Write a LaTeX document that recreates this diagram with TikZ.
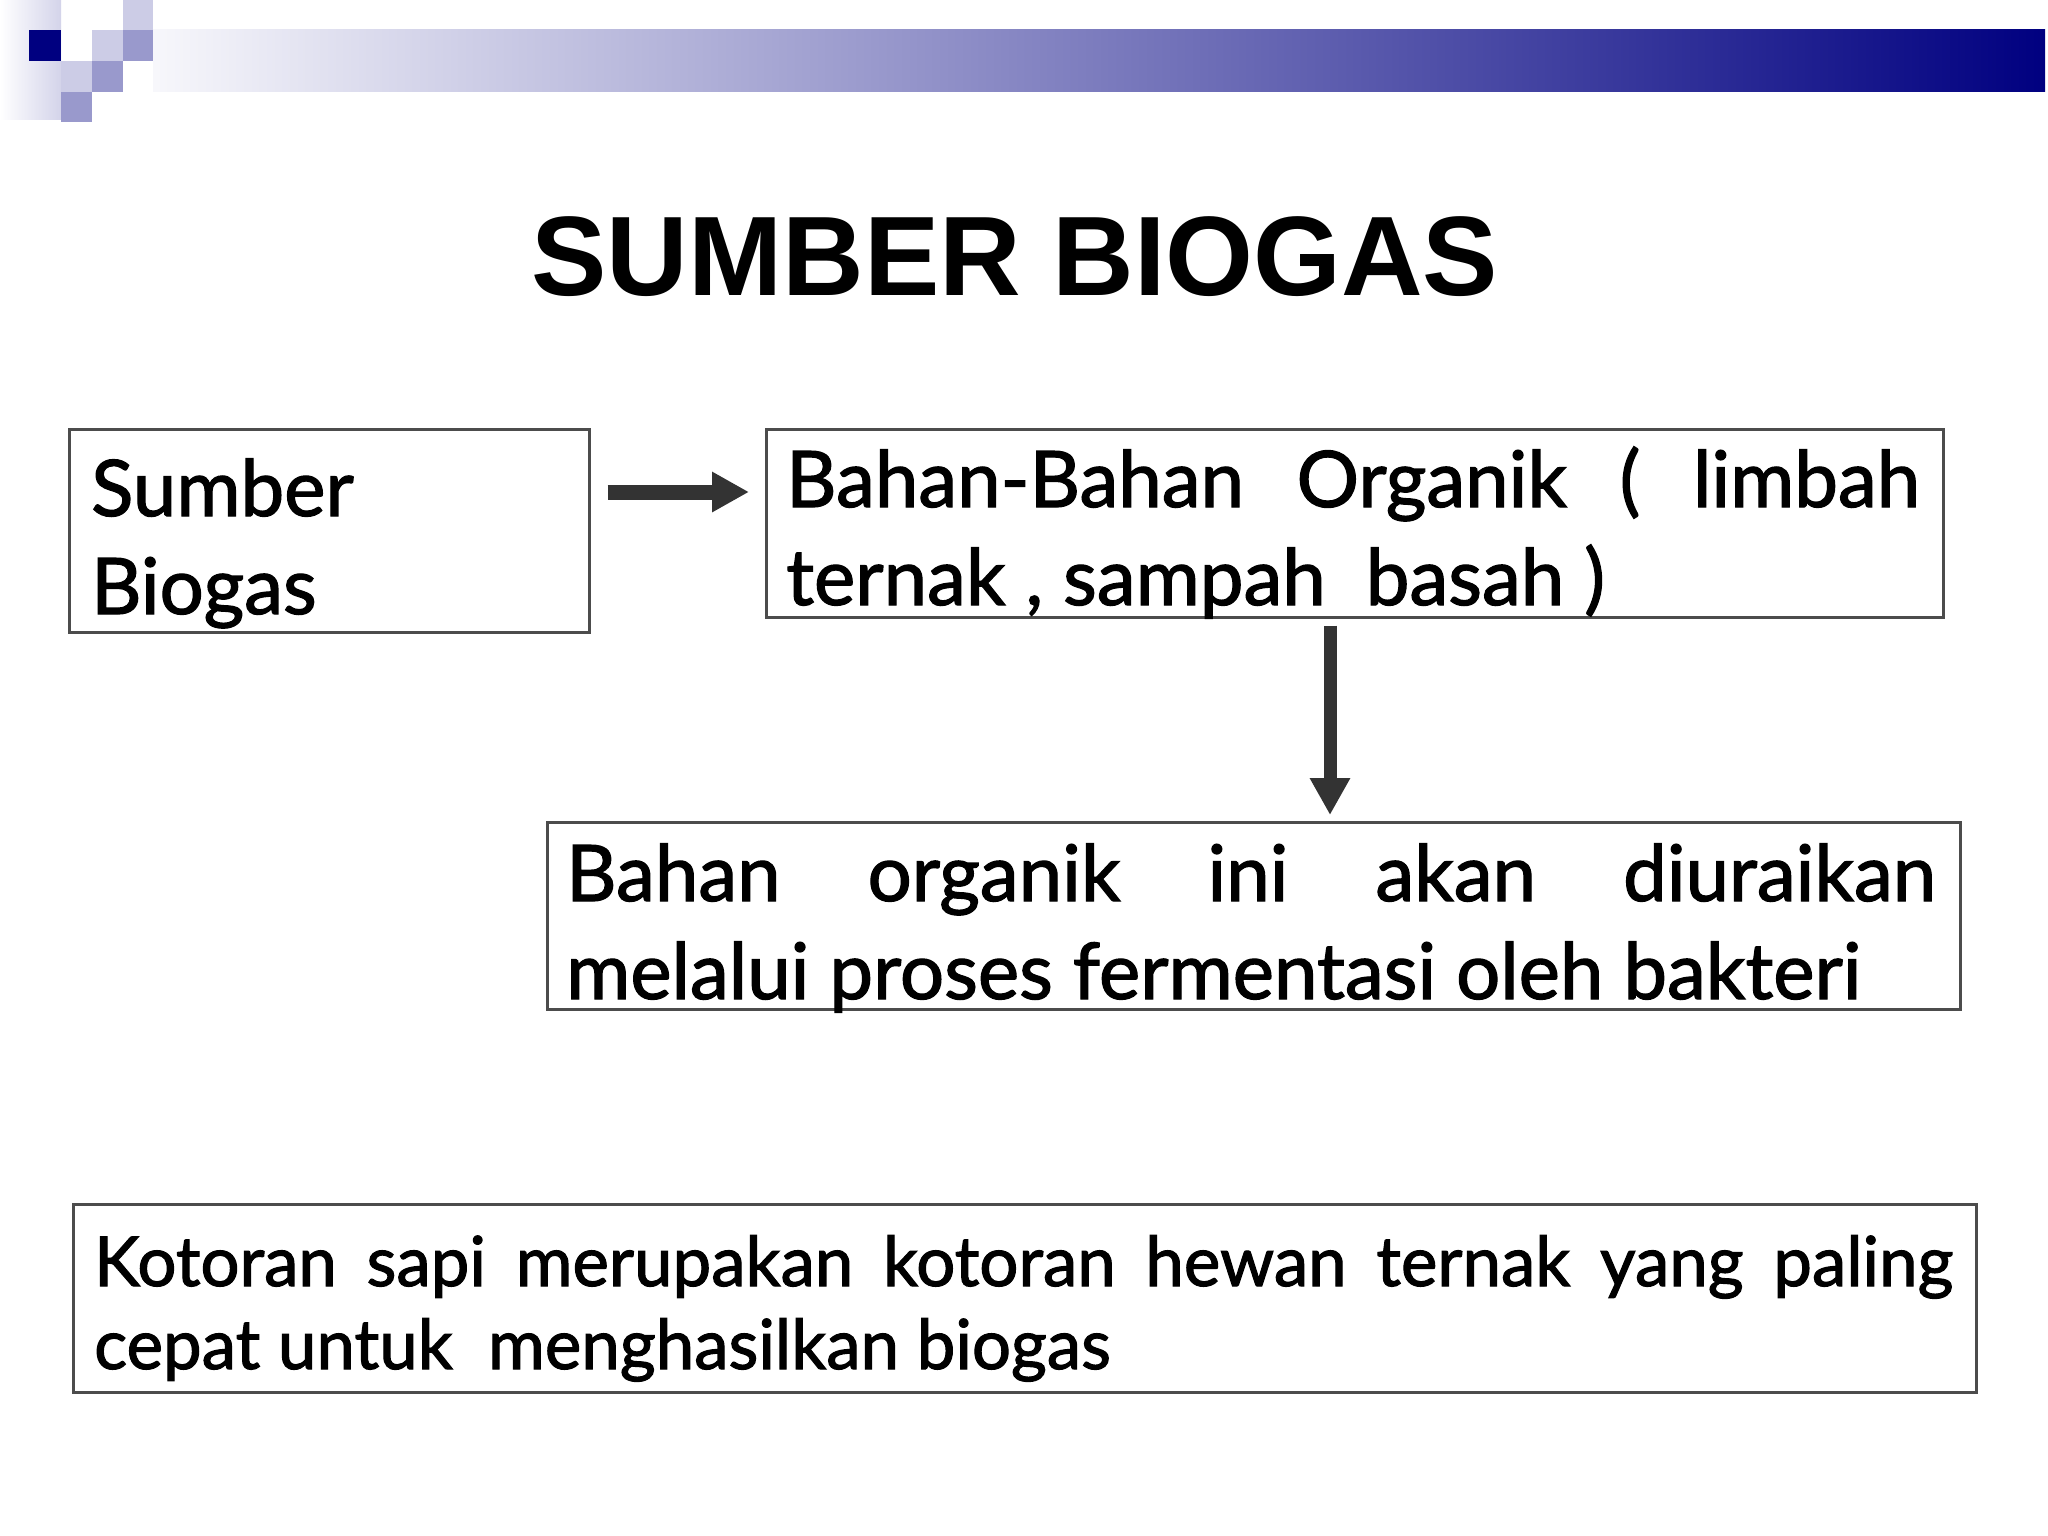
\documentclass[tikz,border=0pt]{standalone}
\usepackage{fontspec}
\setmainfont{Lato}
\newfontfamily\bodyfont{Lato}[FakeBold=1.6]
\newfontfamily\titlefont{Liberation Sans}
\usetikzlibrary{arrows.meta}
\definecolor{navy}{RGB}{0,0,128}
\definecolor{lilac}{RGB}{204,204,230}
\definecolor{lilacdark}{RGB}{153,153,204}
\definecolor{arrowgray}{RGB}{51,51,51}
\tikzset{
  box/.style = {draw = black!70, line width = 2.5pt, inner sep = 0pt, anchor = north west},
  boxtext/.style = {inner sep = 0pt, anchor = base west, align = justify,
    font = \bodyfont\fontsize{78}{98}\selectfont},
  fatarrow/.style = {draw = arrowgray, -{Triangle[width=38pt, length=37pt]}}
}
\begin{document}
\begin{tikzpicture}[x = 1pt, y = -1pt]
    \useasboundingbox (0, 0) rectangle (2048, 1536);
    \fill [white] (0, 0) rectangle (2048, 1536);
    % header decoration
    \shade [left color = white, right color = lilac!85] (0, 0) rectangle (61, 120);
    \shade [left color = lilac!15, right color = navy] (153, 30) rectangle (2045, 92);
    \fill [navy] (29, 30) rectangle (61, 61);
    \fill [lilac] (92, 30) rectangle (123, 61);
    \fill [lilac] (123, 0) rectangle (153, 30);
    \fill [lilac] (61, 61) rectangle (92, 92);
    \fill [lilacdark] (123, 30) rectangle (153, 61);
    \fill [lilacdark] (92, 61) rectangle (123, 92);
    \fill [lilacdark] (61, 92) rectangle (92, 122);
    % title
    \node [anchor = base, font = \titlefont\bfseries\fontsize{113}{113}\selectfont] (judul) at (1015, 295) {SUMBER BIOGAS};
    % boxes
    \node [box, minimum width = 520pt, minimum height = 203pt] (sumber) at (68, 428) {};
    \node [box, minimum width = 1177pt, minimum height = 188pt] (bahan) at (765, 428) {};
    \node [box, minimum width = 1413pt, minimum height = 187pt] (proses) at (546, 821) {};
    \node [box, minimum width = 1903pt, minimum height = 188pt] (kotoran) at (72, 1203) {};
    \node [boxtext, text width = 480pt] (sumbertxt) at (91, 516) {Sumber\\Biogas};
    \node [boxtext, text width = 1134pt] (bahantxt) at (786, 507)
      {Bahan-Bahan Organik ( limbah\linebreak ternak , sampah\ \ basah )};
    \node [boxtext, text width = 1370pt] (prosestxt) at (566, 901)
      {Bahan organik ini akan diuraikan\linebreak melalui proses fermentasi oleh bakteri};
    \node [boxtext, text width = 1859pt, font = \bodyfont\fontsize{69}{83}\selectfont] (kotorantxt) at (94, 1286)
      {Kotoran sapi merupakan kotoran hewan ternak yang paling\linebreak cepat untuk\ \ menghasilkan biogas};
    % arrows
    \draw [fatarrow, line width = 15pt, shorten < = 17pt, shorten > = 16pt] (sumber.east |- 0, 492) -- (bahan.west |- 0, 492);
    \draw [fatarrow, line width = 13pt, shorten < = 7pt, shorten > = 6pt] (bahan.south -| 1330, 0) -- (proses.north -| 1330, 0);
\end{tikzpicture}
\end{document}
